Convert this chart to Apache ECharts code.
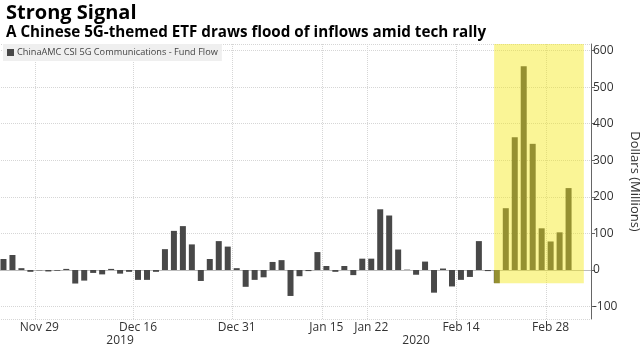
<!DOCTYPE html>
<html>
<head>
<meta charset="utf-8">
<script src="https://cdn.jsdelivr.net/npm/echarts@6/dist/echarts.min.js"></script>
<style>
html, body { margin: 0; padding: 0; background: #fff; }
#main { width: 640px; height: 348px; }
</style>
</head>
<body>
<div id="main"></div>
<script>
"use strict"
// trading days shown on the axis (two blank days at the end)
var days = ['Nov 25','Nov 26','Nov 27','Nov 28','Nov 29',
	'Dec 2','Dec 3','Dec 4','Dec 5','Dec 6','Dec 9','Dec 10','Dec 11','Dec 12','Dec 13',
	'Dec 16','Dec 17','Dec 18','Dec 19','Dec 20','Dec 23','Dec 24','Dec 25','Dec 26','Dec 27',
	'Dec 30','Dec 31','Jan 2','Jan 3','Jan 6','Jan 7','Jan 8','Jan 9','Jan 10',
	'Jan 13','Jan 14','Jan 15','Jan 16','Jan 17','Jan 20','Jan 21','Jan 22',
	'Feb 3','Feb 4','Feb 5','Feb 6','Feb 7','Feb 10','Feb 11','Feb 12','Feb 13','Feb 14',
	'Feb 17','Feb 18','Feb 19','Feb 20','Feb 21','Feb 24','Feb 25','Feb 26','Feb 27','Feb 28',
	'Mar 2','Mar 3','Mar 4','Mar 5'];

// fund flow, millions of dollars
var flows = [30, 41, 5, -5, -1,
	-4, -2, 3, -37, -29, -8, -12, 3, -10, -5,
	-27, -27, -5, 57, 107, 120, 70, -30, 30, 79,
	64, 5, -46, -27, -20, 22, 27, -71, -17,
	-3, 49, 11, -5, 11, -14, 31, 31,
	166, 149, 56, 1, -13, 23, -62, 4, -45, -27,
	-19, 79, -3, -36, 169, 363, 557, 345, 114, 78,
	103, 224];

var dateLabels = ['Nov 29','Dec 16','Dec 31','Jan 15','Jan 22','Feb 14','Feb 28'];
var tickDays = ['Nov 29','Dec 9','Dec 16','Dec 23','Dec 31','Jan 8','Jan 15','Jan 22','Feb 7','Feb 14','Feb 21','Feb 28'];
var yearLabels = { 'Dec 12': '2019', 'Feb 7': '2020' };
var yearBreak = 'Dec 31';

var yMin = -134, yMax = 618;
// yellow box over the latest surge
var highlightFrom = 'Feb 20', highlightTo = 'Mar 5', highlightLow = -36;

var font = 'Open Sans';
var myChart = echarts.init(document.getElementById('main'));

var option = {
	animation: false,
	textStyle: { fontFamily: font },
	title: [
		{
			text: 'Strong Signal',
			left: 1, top: -2,
			textStyle: { fontSize: 20, fontWeight: 'bold', color: '#000', fontFamily: font }
		},
		{
			text: 'A Chinese 5G-themed ETF draws flood of inflows amid tech rally',
			left: 1, top: 20,
			textStyle: { fontSize: 15.2, fontWeight: 'bold', color: '#000', fontFamily: font }
		}
	],
	legend: {
		data: ['ChinaAMC CSI 5G Communications - Fund Flow'],
		left: 3, top: 44,
		icon: 'rect', itemWidth: 7, itemHeight: 7, itemGap: 3,
		backgroundColor: '#efefef',
		padding: [4, 4, 4, 4],
		textStyle: { fontSize: 9.2, color: '#444', padding: [0, 0, 0, -2] }
	},
	grid: { left: -1, right: 49, top: 44, bottom: 29, outerBoundsMode: 'none', containLabel: false },
	xAxis: [
		{
			type: 'category',
			data: days,
			axisLine: { lineStyle: { color: '#bbb' } },
			axisTick: {
				alignWithLabel: true, length: 4,
				interval: function (i, v) { return tickDays.indexOf(v) >= 0; },
				lineStyle: { color: '#999' }
			},
			axisLabel: {
				interval: function (i, v) { return dateLabels.indexOf(v) >= 0; },
				margin: 3, fontSize: 12, color: '#333'
			},
			splitLine: {
				show: true,
				interval: function (i, v) { return dateLabels.indexOf(v) >= 0; },
				lineStyle: { color: '#d6d6d6', type: 'dotted' }
			}
		},
		{
			type: 'category',
			data: days,
			position: 'bottom',
			offset: 14,
			axisLine: { show: false },
			axisTick: {
				alignWithLabel: true, length: 16,
				interval: function (i, v) { return v === yearBreak; },
				lineStyle: { color: '#bbb' }
			},
			axisLabel: {
				interval: function (i, v) { return !!yearLabels[v]; },
				formatter: function (v) { return yearLabels[v] || ''; },
				margin: 2, fontSize: 12, color: '#333'
			}
		}
	],
	yAxis: {
		type: 'value',
		position: 'right',
		min: yMin, max: yMax,
		splitNumber: 7,
		name: 'Dollars (Millions)',
		nameLocation: 'middle',
		nameRotate: -90,
		nameGap: 24,
		nameTextStyle: { fontSize: 13, color: '#333' },
		axisLine: { show: true, lineStyle: { color: '#666' } },
		axisTick: { show: true, length: 4, lineStyle: { color: '#666' } },
		axisLabel: { fontSize: 12, color: '#333', margin: 2, showMinLabel: false, showMaxLabel: false },
		splitLine: { lineStyle: { color: '#d6d6d6', type: 'dotted' } }
	},
	series: [
		{
			name: 'ChinaAMC CSI 5G Communications - Fund Flow',
			type: 'bar',
			data: flows,
			barWidth: 6,
			itemStyle: { color: '#484848' }
		},
		{
			name: 'highlight',
			type: 'custom',
			z: 5,
			silent: true,
			data: [[days.indexOf(highlightFrom), days.indexOf(highlightTo), highlightLow, yMax]],
			renderItem: function (params, api) {
				var p1 = api.coord([api.value(0), api.value(3)]);
				var p2 = api.coord([api.value(1), api.value(2)]);
				var half = api.size([1, 0])[0] * 0.3;
				return {
					type: 'rect',
					shape: { x: p1[0] - half, y: p1[1], width: p2[0] - p1[0], height: p2[1] - p1[1] },
					style: { fill: 'rgba(244, 233, 22, 0.45)' }
				};
			}
		}
	]
};

if (option && typeof option === "object") {
	myChart.setOption(option, true);
}
</script>
</body>
</html>
